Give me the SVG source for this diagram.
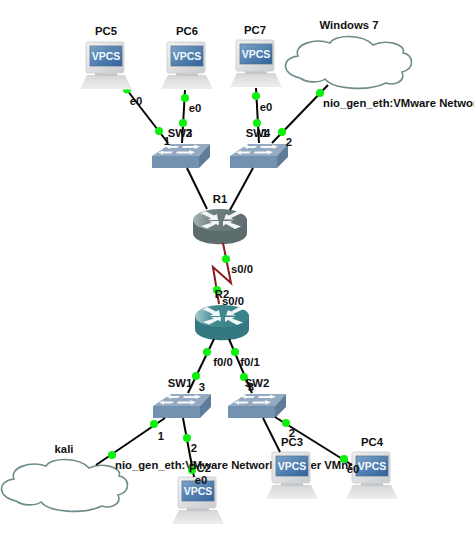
<svg xmlns="http://www.w3.org/2000/svg" width="474" height="539" viewBox="0 0 474 539">
<style>
text{font-family:"Liberation Sans",Arial,sans-serif;font-weight:700;font-size:11.3px;fill:#111}
.m{text-anchor:middle}
.vp{font-size:10.5px;fill:#f4f8fb;text-anchor:middle}
.ln{stroke:#050505;stroke-width:2;fill:none}
.sr{stroke:#8a1c20;stroke-width:2;fill:none}
.dot{fill:#0cf00c}
.cl{fill:#fff;stroke:#6f8c8c;stroke-width:1.6}
.ar{fill:#fff;opacity:.92}
</style>
<defs>
<linearGradient id="mon" x1="0" y1="0" x2="1" y2="1"><stop offset="0" stop-color="#f1f1f1"/><stop offset="1" stop-color="#c9cccf"/></linearGradient>
<linearGradient id="scr" x1="0" y1="0" x2="1" y2="1"><stop offset="0" stop-color="#7ba3c9"/><stop offset="1" stop-color="#2f619a"/></linearGradient>
<linearGradient id="base" x1="0" y1="0" x2="0" y2="1"><stop offset="0" stop-color="#d4d6d8"/><stop offset="1" stop-color="#eeeeee"/></linearGradient>
<linearGradient id="rg" x1="0" y1="0" x2="1" y2="0"><stop offset="0" stop-color="#a9b5b5"/><stop offset=".35" stop-color="#6f7f7f"/><stop offset="1" stop-color="#5f6f6f"/></linearGradient>
<linearGradient id="rt" x1="0" y1="0" x2="1" y2="0"><stop offset="0" stop-color="#a5cfd2"/><stop offset=".35" stop-color="#43898f"/><stop offset="1" stop-color="#3a8288"/></linearGradient>
<g id="pc">
<path d="M0,47 L52,47 L45,33 L7,33 Z" fill="url(#base)"/>
<rect x="15" y="30" width="22" height="4" fill="#c4c6c8"/>
<rect x="6" y="0" width="38" height="31" rx="2" fill="url(#mon)" stroke="#d0d2d4"/>
<rect x="10" y="4" width="32" height="20" fill="url(#scr)" stroke="#54708c" stroke-width=".7"/>
<text class="vp" x="26" y="18">VPCS</text>
</g>
<g id="sw">
<path d="M0,13 L18,1 L58,1 L47,13 Z" fill="#93aac2"/>
<path d="M0,13 H47 V25 H0 Z" fill="#7392b0"/>
<path d="M47,13 L58,1 V14 L47,25 Z" fill="#5f7d9a"/>
<path class="ar" d="M13,3.500 L18,1.800 V3 H27 L25,5 H18 V6 Z M31,3 H42 V1.800 L48,3.500 L43,6 V5 H30 Z M6,9.500 L11,7.500 V8.500 H21 L19,10.500 H11 V11.800 Z M25,8.500 H37 V7.300 L43,9 L38,11.800 V10.500 H24 Z"/>
</g>
<path id="ra" class="ar" d="M7,8 L12,5 L21,9.500 L24,8 L25,14 L15,14 L18,12.300 L10,8.300 Z M50,7 L44,5 L36,9.500 L33,8 L31,13.500 L41,13.500 L38,12 L46,8.200 Z M8,20 L14,22.500 L23,18 L25.500,19.500 L26,15 L16,15 L19,16.500 L11,19 Z M48,20.500 L42,23 L33,18 L30,20 L30,15 L40,15 L37,16.500 L44,19 Z"/>
<path id="cloud" class="cl" d="M13,20 C-4,22 -4,38 15,42 C22,47 35,47 40,43 C48,53 82,56 101,47 C110,50 121,45 117,36 C130,34 129,18 118,17 C122,8 100,3 88,9 C78,-2 50,-2 45,7 C30,2 8,8 13,20 Z"/>
</defs>
<rect width="474" height="539" fill="#fff"/>
<g id="node-win7"><use href="#cloud" x="285" y="36"/><text class="m" x="349" y="29">Windows 7</text></g>
<g id="node-kali"><use href="#cloud" x="1" y="459"/><text class="m" x="64" y="453">kali</text></g>
<text id="label-kali-nio" x="115" y="469">nio_gen_eth:VMware Network Adapter VMnet1</text>
<text id="label-win7-nio" x="323" y="107">nio_gen_eth:VMware Network Adapter VMnet1</text>
<g id="node-pc5"><use href="#pc" x="80" y="42"/><text class="m" x="106" y="35">PC5</text></g>
<g id="node-pc6"><use href="#pc" x="161" y="42"/><text class="m" x="187" y="35">PC6</text></g>
<g id="node-pc7"><use href="#pc" x="230" y="40"/><text class="m" x="255" y="34">PC7</text></g>
<g id="node-pc2"><use href="#pc" x="172" y="477"/></g>
<g id="node-pc3"><use href="#pc" x="266" y="452"/><text class="m" x="292" y="446">PC3</text></g>
<g id="node-pc4"><use href="#pc" x="346" y="452"/><text class="m" x="372" y="446">PC4</text></g>
<g id="node-sw3"><use href="#sw" x="152" y="143"/></g>
<g id="node-sw4"><use href="#sw" x="230" y="143"/></g>
<g id="node-sw1"><use href="#sw" x="153" y="393"/></g>
<g id="node-sw2"><use href="#sw" x="228" y="393"/></g>
<g id="node-r1"><path d="M193,219 V233 C193,248 247,248 247,233 V219 Z" fill="#5c6c6c"/><ellipse cx="220" cy="220" rx="27" ry="11" fill="url(#rg)"/><use href="#ra" x="193" y="206"/></g>
<g id="node-r2"><path d="M195,315 V329 C195,344 249,344 249,329 V315 Z" fill="#33797f"/><ellipse cx="222" cy="316" rx="27" ry="11" fill="url(#rt)"/><use href="#ra" x="195" y="302"/></g>
<g id="connectors">
<path class="ln" d="M127,90 L168,143"/>
<path class="ln" d="M185,90 L182,143"/>
<path class="ln" d="M256,88 L259,143"/>
<path class="ln" d="M328,85 L272,143"/>
<path class="ln" d="M187,168 L207,209"/>
<path class="ln" d="M253,168 L230,210"/>
<path class="sr" d="M223,243 L231,283 L213,267 L219,304"/>
<path class="ln" d="M214,339 L188,393"/>
<path class="ln" d="M229,339 L252,393"/>
<path class="ln" d="M165,418 L96,465"/>
<path class="ln" d="M183,418 L194,477"/>
<path class="ln" d="M263,418 L280,452"/>
<path class="ln" d="M275,417 L352,465"/>
<g class="dot">
<path d="M123,89.500 H131 A4,4 0 0 1 123,89.500 Z"/><circle cx="159" cy="131" r="4"/>
<circle cx="185" cy="98" r="4"/><circle cx="183" cy="123" r="4"/>
<circle cx="256" cy="96" r="4"/><circle cx="257" cy="123" r="4"/>
<circle cx="320" cy="93" r="4"/><circle cx="282" cy="132" r="4"/>
<circle cx="226" cy="259" r="4"/><circle cx="217" cy="290" r="4"/>
<circle cx="207" cy="352" r="4"/><circle cx="235" cy="352" r="4"/>
<circle cx="196" cy="376" r="4"/><circle cx="244" cy="377" r="4"/>
<circle cx="154" cy="424" r="4"/><circle cx="112" cy="455" r="4"/>
<circle cx="187" cy="438" r="4"/><circle cx="192" cy="470" r="4"/>
<circle cx="286" cy="423" r="4"/><circle cx="344" cy="459" r="4"/>
</g>
</g>
<g id="labels">
<text class="m" x="136" y="105">e0</text>
<text class="m" x="195" y="112">e0</text>
<text class="m" x="266" y="111">e0</text>
<text class="m" x="180" y="137">SW3</text><text class="m" x="189" y="137">2</text><text class="m" x="167" y="145">1</text>
<text class="m" x="258" y="137">SW4</text><text class="m" x="265" y="137">1</text><text class="m" x="289" y="146">2</text>
<text class="m" x="220" y="203">R1</text>
<text class="m" x="242" y="273">s0/0</text>
<text class="m" x="222" y="298">R2</text>
<text class="m" x="233" y="305">s0/0</text>
<text class="m" x="223" y="366">f0/0</text>
<text class="m" x="250" y="366">f0/1</text>
<text class="m" x="180" y="387">SW1</text><text class="m" x="202" y="391">3</text>
<text class="m" x="257" y="387">SW2</text><text class="m" x="251" y="391">3</text>
<text class="m" x="161" y="440">1</text>
<text class="m" x="194" y="452">2</text>
<text class="m" x="200" y="472">PC2</text>
<text class="m" x="201" y="484">e0</text>
<text class="m" x="292" y="437">2</text>
<text class="m" x="353" y="473">e0</text>
</g>
</svg>
